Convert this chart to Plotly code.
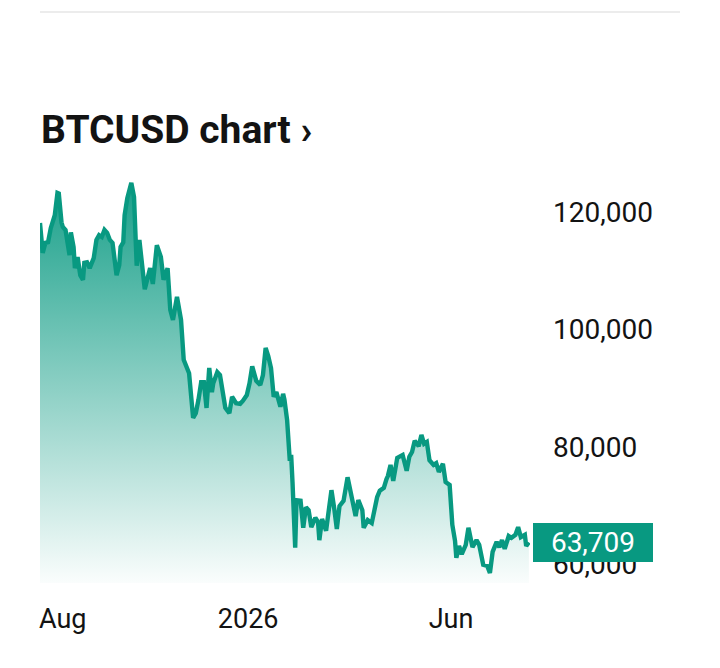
import pandas as pd
import plotly.graph_objects as go

# BTCUSD daily closes
start_date = "2025-07-30"
day = [0, 2, 4, 6, 8, 10, 11, 13, 14, 16, 17, 19, 21, 22, 23, 25, 26, 28, 30, 32,
       33, 35, 37, 39, 40, 42, 44, 46, 48, 50, 52, 54, 55, 57, 59, 60, 62, 63, 65, 67,
       68, 70, 71, 72, 74, 76, 78, 82, 84, 87, 90, 92, 95, 97, 99, 102, 105, 107, 111, 114,
       116, 118, 120, 122, 124, 126, 128, 129, 132, 134, 136, 138, 141, 143, 146, 149, 151, 154, 156, 158,
       161, 164, 166, 168, 170, 172, 174, 176, 179, 181, 182, 184, 186, 187, 188, 190, 191, 194, 196, 198,
       200, 202, 205, 207, 208, 210, 213, 215, 217, 219, 221, 223, 226, 229, 231, 233, 235, 237, 240, 241,
       244, 247, 249, 251, 253, 256, 258, 259, 261, 263, 266, 269, 270, 273, 275, 277, 279, 282, 284, 286,
       288, 290, 293, 295, 297, 300, 302, 305, 307, 309, 310, 312, 314, 317, 319, 322, 325, 327, 330, 333,
       335, 337, 340, 342, 344, 346, 349, 351, 354, 356, 358, 361, 362, 364]
price = [118100, 113000, 114700, 114800, 117200, 118900, 119400, 123200, 123100, 118200,
         117400, 116900, 113000, 112600, 116500, 114000, 110400, 112300, 109200, 108400,
         111300, 111400, 110400, 111800, 112100, 115200, 116000, 115700, 116900, 116400,
         115200, 114700, 113000, 109200, 110900, 114000, 114800, 119400, 122300, 124000,
         124900, 122500, 117700, 110800, 115200, 111400, 106800, 110400, 107700, 114300,
         112300, 108400, 110400, 103300, 101600, 105500, 101600, 94800, 92500, 84900,
         85700, 88000, 91000, 91000, 86600, 93400, 89300, 90800, 92700, 92200,
         89800, 86600, 85700, 88500, 87400, 87300, 87800, 88800, 90800, 93700,
         91200, 90500, 92200, 96800, 95400, 93400, 88500, 89300, 86800, 89000,
         88000, 84500, 77600, 78600, 74000, 62800, 70900, 70800, 66200, 69700,
         69200, 66300, 67900, 67200, 64100, 67700, 65700, 68900, 72600, 69600,
         66000, 69900, 70800, 74800, 72300, 69900, 68200, 70900, 69200, 66200,
         67500, 67000, 69200, 71400, 72500, 73000, 74500, 75000, 76900, 74200,
         78100, 78400, 78600, 75900, 78300, 79100, 81000, 80100, 82000, 80500,
         80800, 77700, 76900, 77200, 75700, 77100, 74000, 73500, 66700, 64000,
         61100, 63100, 61700, 63300, 66200, 62900, 64100, 63300, 59900, 59700,
         58500, 62100, 63800, 62900, 64100, 62600, 64800, 64500, 65000, 66300,
         64600, 65000, 63100, 63709]

tick_dates = ["2026-01-01", "2026-06-01"]
tick_text = ["2026", "Jun"]
y_ticks = [60000, 80000, 100000, 120000]

dates = pd.Timestamp(start_date) + pd.to_timedelta(day, unit="D")
last_price = price[-1]

green = "#089981"
ink = "#131313"
y_lo, y_hi = 56800, 126250

fig = go.Figure(go.Scatter(
    x=dates, y=price, mode="lines",
    line=dict(color=green, width=4.4),
    fill="tozeroy",
    fillgradient=dict(type="vertical", start=y_lo, stop=y_hi,
                      colorscale=[[0, "rgba(8,153,129,0.02)"], [1, "rgba(8,153,129,0.95)"]]),
    hoverinfo="skip"))

# page body adds 8px, so margins are 8px tighter on the top/left
fig.update_layout(
    width=720, height=668,
    margin=dict(l=32, r=198, t=167, b=93),
    paper_bgcolor="white", plot_bgcolor="white",
    showlegend=False,
    font=dict(family="Roboto", color=ink),
    title=dict(text="<b>BTCUSD chart ›</b>", font=dict(family="Roboto", size=39, color=ink),
               xref="container", x=33 / 720, xanchor="left",
               yref="container", y=1 - 121.5 / 668, yanchor="middle"),
)

fig.update_xaxes(range=["2025-07-30", "2026-07-29 20:00"], showgrid=False, zeroline=False,
                 showline=False, ticks="", tickvals=tick_dates, ticktext=tick_text,
                 tickfont=dict(size=27, color=ink), ticklabelstandoff=17)
fig.update_yaxes(range=[y_lo, y_hi], side="right", showgrid=False, zeroline=False,
                 showline=False, ticks="", tickvals=y_ticks, tickformat=",",
                 tickfont=dict(size=28, color=ink), ticklabelstandoff=22)

# first month label sits flush with the left edge
fig.add_annotation(text="Aug", xref="paper", yref="paper", x=-3 / 490, y=-36 / 408,
                   xanchor="left", yanchor="middle", showarrow=False,
                   font=dict(size=27, color=ink))

# last price tag
fig.add_annotation(text=f"{last_price:,}", xref="paper", yref="y",
                   x=493 / 490, y=last_price, xanchor="left", yanchor="middle",
                   showarrow=False, bgcolor=green, borderwidth=0, borderpad=4,
                   width=112, height=31, align="center",
                   font=dict(size=28, color="white"))

# thin separator at the top of the card
fig.add_shape(type="line", xref="paper", yref="paper", x0=0, x1=640 / 490,
              y0=571 / 408, y1=571 / 408, line=dict(color="#ececec", width=2))

fig.write_html("out.html")
